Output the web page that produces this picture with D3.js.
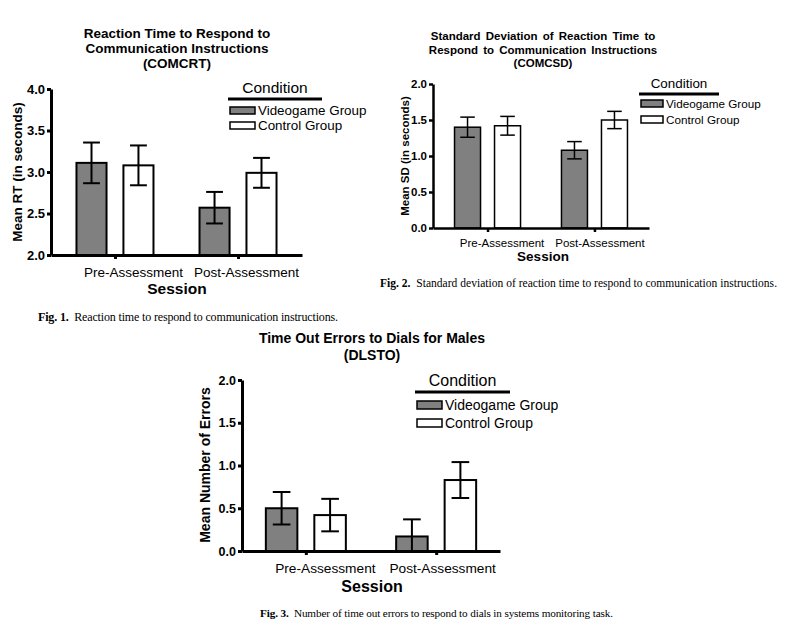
<!DOCTYPE html>
<html>
<head>
<meta charset="utf-8">
<script src="https://cdn.jsdelivr.net/npm/d3@7"></script>
<style>
  body { margin: 0; background: #fff; }
  svg { display: block; }
  text { font-family: "Liberation Sans", Arial, sans-serif; fill: #000; }
  .caption { font-family: "Liberation Serif", "Times New Roman", serif; }
</style>
</head>
<body>
<div id="chart"></div>
<script>
// shared categories
var sessions = ["Pre-Assessment", "Post-Assessment"];
var groups = ["Videogame Group", "Control Group"];

// Fig. 1 - COMCRT, mean RT (s)
var rtVideogame = [3.11, 2.57];
var rtVideogameErr = [0.245, 0.19];
var rtControl = [3.08, 2.99];
var rtControlErr = [0.24, 0.18];
var rtTicks = [2.0, 2.5, 3.0, 3.5, 4.0];

// Fig. 2 - COMCSD, mean SD (s)
var sdVideogame = [1.40, 1.08];
var sdVideogameErr = [0.14, 0.12];
var sdControl = [1.42, 1.50];
var sdControlErr = [0.13, 0.12];
var sdTicks = [0.0, 0.5, 1.0, 1.5, 2.0];

// Fig. 3 - DLSTO, mean number of errors
var toVideogame = [0.50, 0.17];
var toVideogameErr = [0.19, 0.20];
var toControl = [0.42, 0.83];
var toControlErr = [0.19, 0.21];
var toTicks = [0.0, 0.5, 1.0, 1.5, 2.0];

var fillColors = {"Videogame Group": "#808080", "Control Group": "#ffffff"};

var svg = d3.select('#chart')
  .append('svg')
  .attr('width', 786)
  .attr('height', 627);

function drawChart(cfg) {
  var g = svg.append('g');
  var x = d3.scalePoint().domain(sessions).range([cfg.x0, cfg.x1]).padding(cfg.pad);
  var xg = d3.scaleBand().domain(groups).range([-cfg.span / 2, cfg.span / 2]).paddingInner(cfg.inner);
  var y = d3.scaleLinear().domain([cfg.ticks[0], cfg.ticks[cfg.ticks.length - 1]]).range([cfg.yBot, cfg.yTop]);

  var rows = [];
  sessions.forEach(function (s, i) {
    rows.push({session: s, group: groups[0], v: cfg.vg[i], e: cfg.vgErr[i]});
    rows.push({session: s, group: groups[1], v: cfg.ct[i], e: cfg.ctErr[i]});
  });

  g.selectAll('rect.bar').data(rows)
    .enter().append('rect')
    .attr('class', 'bar')
    .attr('x', function (d) { return x(d.session) + xg(d.group); })
    .attr('width', xg.bandwidth())
    .attr('y', function (d) { return y(d.v); })
    .attr('height', function (d) { return y.range()[0] - y(d.v); })
    .attr('fill', function (d) { return fillColors[d.group]; })
    .attr('stroke', '#000')
    .attr('stroke-width', cfg.sw);

  var cap = xg.bandwidth() * 0.28;
  var eb = g.selectAll('g.err').data(rows).enter().append('g')
    .attr('transform', function (d) { return 'translate(' + (x(d.session) + xg(d.group) + xg.bandwidth() / 2) + ',0)'; })
    .attr('stroke', '#000')
    .attr('stroke-width', cfg.sw);
  eb.append('line')
    .attr('y1', function (d) { return y(d.v + d.e); })
    .attr('y2', function (d) { return y(Math.max(y.domain()[0], d.v - d.e)); });
  eb.append('line').attr('x1', -cap).attr('x2', cap)
    .attr('y1', function (d) { return y(d.v + d.e); })
    .attr('y2', function (d) { return y(d.v + d.e); });
  eb.filter(function (d) { return d.v - d.e > y.domain()[0]; })
    .append('line').attr('x1', -cap).attr('x2', cap)
    .attr('y1', function (d) { return y(d.v - d.e); })
    .attr('y2', function (d) { return y(d.v - d.e); });

  // y axis
  var ya = g.append('g')
    .attr('transform', 'translate(' + cfg.x0 + ',0)')
    .call(d3.axisLeft(y).tickValues(cfg.ticks).tickFormat(d3.format('.1f')).tickSize(4).tickSizeOuter(0).tickPadding(2));
  ya.select('.domain').attr('stroke-width', cfg.aw);
  ya.selectAll('.tick line').attr('stroke-width', cfg.aw);
  ya.selectAll('.tick text').style('font-size', cfg.tickFs + 'px').style('font-weight', 'bold')
    .style('font-family', '"Liberation Sans", Arial, sans-serif');

  // x axis, labels sit a little right of their ticks as in the original
  var xa = g.append('g')
    .attr('transform', 'translate(0,' + cfg.yBot + ')')
    .call(d3.axisBottom(x).tickSize(4).tickSizeOuter(0).tickPadding(cfg.catPad));
  xa.select('.domain').attr('stroke-width', cfg.aw);
  xa.selectAll('.tick line').attr('stroke-width', cfg.aw);
  xa.selectAll('.tick text').style('font-size', cfg.catFs + 'px')
    .style('font-family', '"Liberation Sans", Arial, sans-serif')
    .attr('dx', function (d, i) { return cfg.catDx[i]; });

  // titles
  g.selectAll('text.title').data(cfg.title).enter().append('text')
    .attr('x', cfg.titleX)
    .attr('y', function (d, i) { return cfg.titleY + i * cfg.titleGap; })
    .attr('text-anchor', 'middle')
    .style('font-size', cfg.titleFs + 'px')
    .style('font-weight', 'bold')
    .style('word-spacing', cfg.wordSp + 'px')
    .text(function (d) { return d; });

  g.append('text')
    .attr('transform', 'translate(' + cfg.ylabX + ',' + cfg.ylabY + ') rotate(-90)')
    .attr('text-anchor', 'middle')
    .style('font-size', cfg.ylabFs + 'px')
    .style('font-weight', 'bold')
    .text(cfg.ylab);

  g.append('text')
    .attr('x', cfg.sessX)
    .attr('y', cfg.sessY)
    .attr('text-anchor', 'middle')
    .style('font-size', cfg.sessFs + 'px')
    .style('font-weight', 'bold')
    .text('Session');

  // legend
  var lg = g.append('g').attr('transform', 'translate(' + cfg.legX + ',' + cfg.legY + ')');
  lg.append('text').attr('x', cfg.legW / 2).attr('y', -6)
    .attr('text-anchor', 'middle').style('font-size', cfg.condFs + 'px').text('Condition');
  lg.append('line').attr('x1', 0).attr('x2', cfg.legW).attr('y1', 0).attr('y2', 0)
    .attr('stroke', '#000').attr('stroke-width', 3);
  var li = lg.selectAll('g.item').data(groups).enter().append('g')
    .attr('transform', function (d, i) { return 'translate(2,' + (cfg.legRow0 + i * cfg.legRow) + ')'; });
  li.append('rect').attr('width', cfg.swW).attr('height', cfg.swH).attr('y', -cfg.swH)
    .attr('fill', function (d) { return fillColors[d]; })
    .attr('stroke', '#000').attr('stroke-width', 1.5);
  li.append('text').attr('x', cfg.swW + 3).attr('y', 1)
    .style('font-size', cfg.legFs + 'px').text(function (d) { return d; });

  // caption
  var capText = g.append('text').attr('class', 'caption')
    .attr('x', cfg.capX).attr('y', cfg.capY).style('font-size', cfg.capFs + 'px')
    .attr('textLength', cfg.capW).attr('lengthAdjust', 'spacing');
  capText.append('tspan').style('font-weight', 'bold').text(cfg.capLead);
  capText.append('tspan').text('\u00a0 ' + cfg.capText);
}

drawChart({
  vg: rtVideogame, vgErr: rtVideogameErr, ct: rtControl, ctErr: rtControlErr, ticks: rtTicks,
  x0: 51, x1: 302, pad: 0.52, span: 77, inner: 0.36, yTop: 89, yBot: 255, sw: 2, aw: 3,
  tickFs: 13, catFs: 13.5, catPad: 8, catDx: [18, 8],
  title: ["Reaction Time to Respond to", "Communication Instructions", "(COMCRT)"],
  titleX: 177, titleY: 38, titleGap: 15, titleFs: 13.5, wordSp: 0,
  ylab: "Mean RT (in seconds)", ylabX: 22, ylabY: 172, ylabFs: 13.5,
  sessX: 177, sessY: 294, sessFs: 15.5,
  legX: 228, legY: 99, legW: 94, condFs: 15.5, legRow0: 15, legRow: 15, swW: 25, swH: 7, legFs: 13.4,
  capX: 38, capY: 321, capFs: 12, capW: 300, capLead: "Fig. 1.", capText: "Reaction time to respond to communication instructions."
});

drawChart({
  vg: sdVideogame, vgErr: sdVideogameErr, ct: sdControl, ctErr: sdControlErr, ticks: sdTicks,
  x0: 433, x1: 649, pad: 0.51, span: 66, inner: 0.35, yTop: 84, yBot: 228, sw: 1.5, aw: 2.5,
  tickFs: 11.5, catFs: 11.5, catPad: 7, catDx: [14, 5],
  title: ["Standard Deviation of Reaction Time to", "Respond to Communication Instructions", "(COMCSD)"],
  titleX: 543, titleY: 40, titleGap: 13.5, titleFs: 11.5, wordSp: 2,
  ylab: "Mean SD (in seconds)", ylabX: 409, ylabY: 156, ylabFs: 11.5,
  sessX: 543, sessY: 261, sessFs: 13.5,
  legX: 639, legY: 94, legW: 80, condFs: 13.4, legRow0: 13, legRow: 16, swW: 22, swH: 7, legFs: 11.7,
  capX: 380, capY: 287, capFs: 11.5, capW: 397, capLead: "Fig. 2.", capText: "Standard deviation of reaction time to respond to communication instructions."
});

drawChart({
  vg: toVideogame, vgErr: toVideogameErr, ct: toControl, ctErr: toControlErr, ticks: toTicks,
  x0: 242, x1: 500, pad: 0.49, span: 80, inner: 0.35, yTop: 380, yBot: 551, sw: 2, aw: 3,
  tickFs: 12.5, catFs: 13.7, catPad: 8, catDx: [19, 6],
  title: ["Time Out Errors to Dials for Males", "(DLSTO)"],
  titleX: 372, titleY: 343, titleGap: 17, titleFs: 14, wordSp: 0,
  ylab: "Mean Number of Errors", ylabX: 210, ylabY: 465, ylabFs: 14,
  sessX: 372, sessY: 592, sessFs: 16,
  legX: 415, legY: 392, legW: 95, condFs: 16, legRow0: 17, legRow: 18, swW: 25, swH: 8, legFs: 14,
  capX: 260, capY: 617, capFs: 11.2, capW: 353, capLead: "Fig. 3.", capText: "Number of time out errors to respond to dials in systems monitoring task."
});
</script>
</body>
</html>
